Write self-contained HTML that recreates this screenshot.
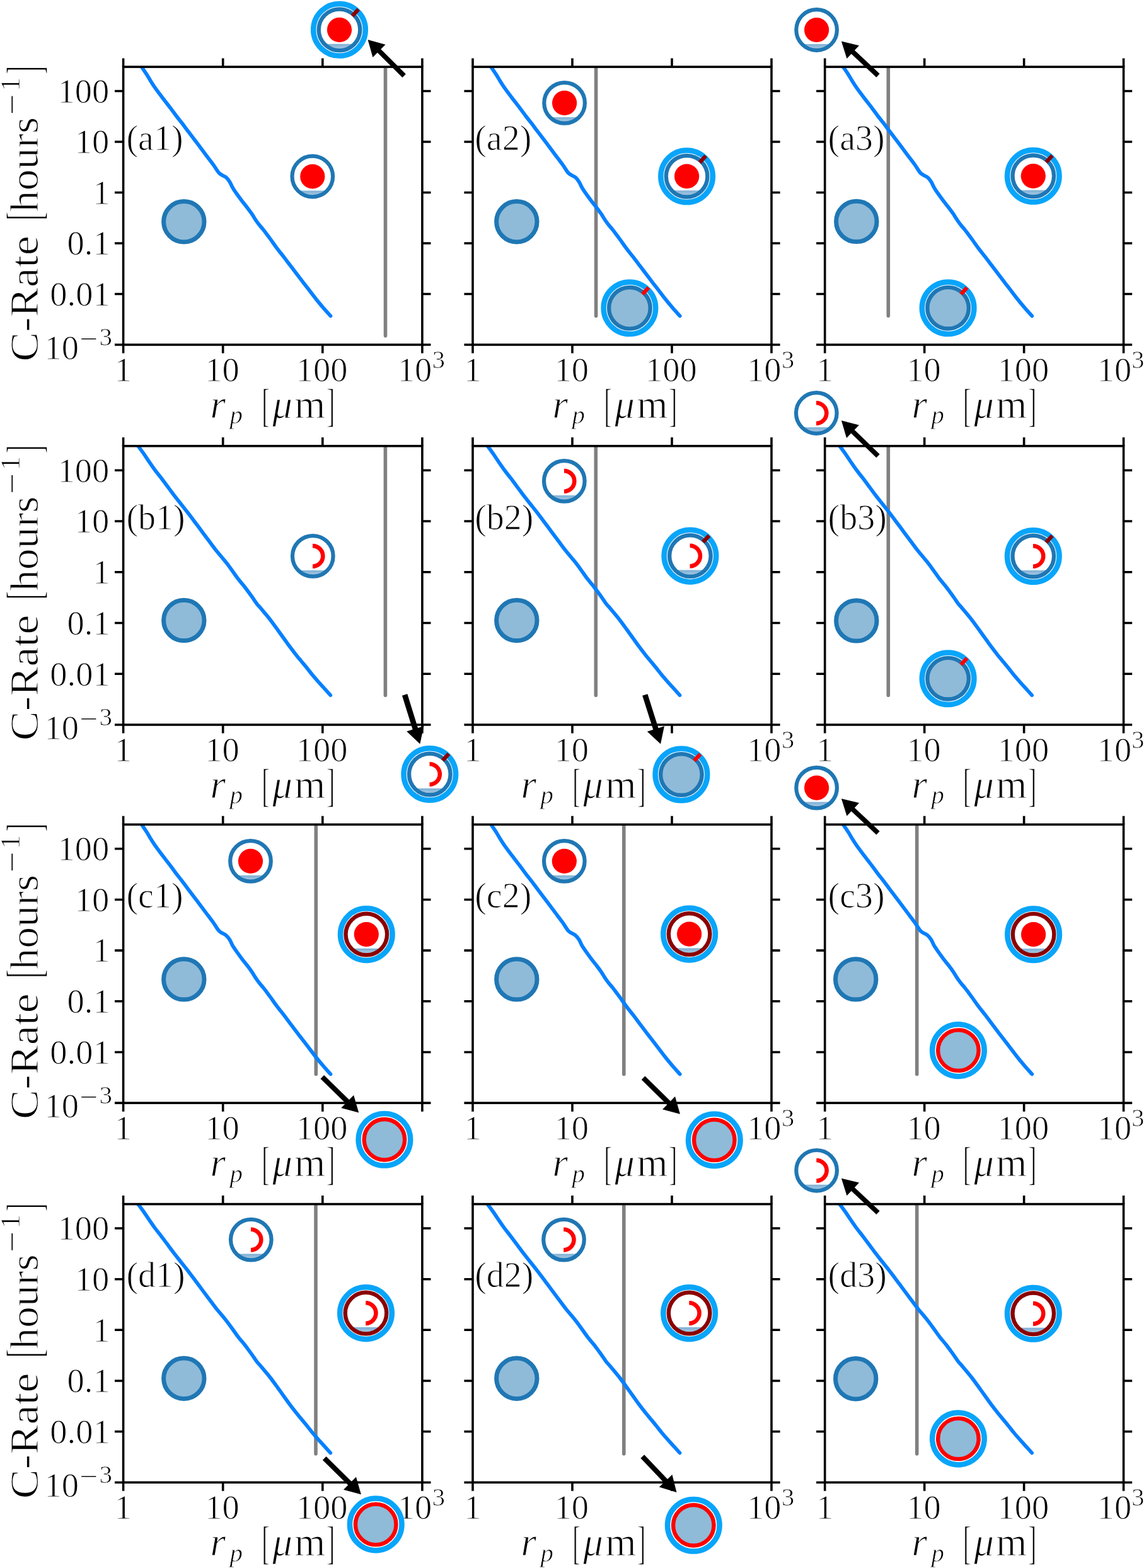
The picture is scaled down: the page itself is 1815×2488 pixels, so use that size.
<!DOCTYPE html>
<html lang="en"><head><meta charset="utf-8"><title>C-Rate versus particle radius</title>
<style>html,body{margin:0;padding:0;background:#fff}svg{display:block}text{font-family:'Liberation Serif', 'DejaVu Serif', serif;fill:#000;stroke:#fff;paint-order:fill stroke;stroke-linejoin:round}text,tspan{stroke-width:0.0185em}</style>
</head><body>
<svg xmlns="http://www.w3.org/2000/svg" width="1815" height="2488" viewBox="0 0 1815 2488">
<defs><linearGradient id="seg" x1="0" y1="0" x2="0" y2="1"><stop offset="0" stop-color="#7fb0d6"/><stop offset="1" stop-color="#b4d0e6"/></linearGradient></defs>
<rect width="1815" height="2488" fill="#fff"/>
<g id="a1">
<clipPath id="clip_a1"><rect x="195.6" y="106.1" width="474.3" height="440.9"/></clipPath>
<line x1="611.5" y1="106.1" x2="611.5" y2="532.7" stroke="#808080" stroke-width="5.6" stroke-linecap="round" clip-path="url(#clip_a1)"/>
<path d="M224.4 105.7 C225.79 107.76 230.42 114.44 232.76 118.07 C235.09 121.7 236.27 124.05 238.41 127.48 C240.54 130.91 242.36 134.07 245.57 138.66 C248.79 143.25 253.55 149.57 257.69 155.03 C261.84 160.49 266.65 166.47 270.44 171.44 C274.22 176.42 277.35 180.89 280.4 184.87 C283.44 188.85 285.56 191.25 288.69 195.34 C291.81 199.42 295.09 204.01 299.15 209.37 C303.21 214.73 308.53 221.53 313.04 227.49 C317.56 233.46 321.97 239.47 326.23 245.15 C330.49 250.83 334.99 256.64 338.6 261.6 C342.21 266.56 344.63 271.65 347.9 274.9 C351.17 278.15 355.47 278.87 358.2 281.1 C360.93 283.33 362.61 285.74 364.3 288.3 C365.99 290.86 367.25 294.37 368.36 296.46 C369.47 298.56 369.64 298.85 370.97 300.85 C372.29 302.86 374.09 305.44 376.29 308.51 C378.5 311.57 381.44 315.64 384.19 319.26 C386.94 322.87 390.25 326.85 392.81 330.21 C395.37 333.57 397.81 336.88 399.58 339.43 C401.34 341.98 402.07 343.46 403.38 345.51 C404.69 347.55 405.95 349.62 407.42 351.69 C408.89 353.77 410.56 355.93 412.18 357.94 C413.81 359.96 415.44 361.61 417.2 363.78 C418.96 365.95 420.65 368.2 422.74 370.97 C424.82 373.74 427.01 376.7 429.7 380.4 C432.39 384.09 435.44 388.58 438.87 393.14 C442.3 397.71 446.99 403.5 450.3 407.79 C453.6 412.07 456.42 415.87 458.71 418.88 C460.99 421.88 461.25 422.2 464 425.82 C466.76 429.44 471.14 435.27 475.23 440.61 C479.32 445.95 484.27 452.3 488.55 457.84 C492.82 463.38 496.86 468.82 500.89 473.87 C504.91 478.93 508.75 483.55 512.68 488.14 C516.62 492.73 522.53 499.19 524.5 501.4" fill="none" stroke="#0580ff" stroke-width="5.8" stroke-linecap="round" stroke-linejoin="round" clip-path="url(#clip_a1)"/>
<rect x="195.6" y="106.1" width="474.3" height="440.9" fill="none" stroke="#000" stroke-width="3.6"/>
<path d="M195.6 106.1 v-13.6 M195.6 547 v13.6 M353.7 106.1 v-13.6 M353.7 547 v13.6 M511.8 106.1 v-13.6 M511.8 547 v13.6 M669.9 106.1 v-13.6 M669.9 547 v13.6 M195.6 144.51 h-13.6 M669.9 144.51 h13.6 M195.6 225.01 h-13.6 M669.9 225.01 h13.6 M195.6 305.5 h-13.6 M669.9 305.5 h13.6 M195.6 386 h-13.6 M669.9 386 h13.6 M195.6 466.5 h-13.6 M669.9 466.5 h13.6 M195.6 547 h-13.6 M669.9 547 h13.6" stroke="#000" stroke-width="3.6" fill="none" stroke-linecap="butt"/>
<text x="181.82" y="604.9" font-size="54.5">1</text>
<text x="325.27" y="604.9" font-size="54.5">10</text>
<text x="469.75" y="604.9" font-size="54.5">100</text>
<text><tspan x="630.77" y="604.9" font-size="54.5">10</tspan><tspan x="685.82" y="583.6" font-size="40.5">3</tspan></text>
<text x="91.55" y="162.81" font-size="54.5">100</text>
<text x="118.8" y="243.31" font-size="54.5">10</text>
<text x="147.3" y="323.8" font-size="54.5">1</text>
<text x="106.55" y="404.3" font-size="54.5">0.1</text>
<text x="79.3" y="484.8" font-size="54.5">0.01</text>
<text><tspan x="70.57" y="569.8" font-size="54.5">10</tspan><tspan x="125.97" y="555" font-size="52">−</tspan><tspan x="157.82" y="548" font-size="40.5">3</tspan></text>
<g transform="translate(59.5 571) rotate(-90)"><text transform="translate(-2.7 0) scale(1.1200 1)" font-size="63">C-Rate</text><text transform="translate(220.68 5.24) scale(0.700 1.231)" font-size="63">[</text><text transform="translate(234.46 0) scale(1.0783 1)" font-size="63">hours</text><text><tspan x="388.35" y="-20.7" font-size="60">−</tspan><tspan x="426.07" y="-28.6" font-size="45">1</tspan></text><text transform="translate(453.09 5.24) scale(0.629 1.231)" font-size="63">]</text></g>
<text><tspan x="333.52" y="663" font-size="63" font-style="italic">r</tspan><tspan x="364.48" y="672.4" font-size="41" font-style="italic">p</tspan> </text><text transform="translate(415.13 668.28) scale(0.614 1.190)" font-size="63">[</text><text><tspan x="432.3" y="663" font-size="63" font-style="italic">μ</tspan><tspan x="467.32" y="663" font-size="63">m</tspan></text><text transform="translate(518.27 668.28) scale(0.614 1.190)" font-size="63">]</text>
<text x="200.45" y="237.9" font-size="56">(a1)</text>
<circle cx="291.8" cy="351.7" r="32.2" fill="#8fbbd9" stroke="#1f77b4" stroke-width="7.0"/>
<circle cx="495.8" cy="280" r="32.3" fill="#fff"/>
<path d="M518.97 302.5 A32.3 32.3 0 0 1 472.63 302.5 Z" fill="url(#seg)"/>
<circle cx="495.8" cy="280" r="32.3" fill="none" stroke="#1f77b4" stroke-width="6.2"/>
<circle cx="495.8" cy="280" r="19.6" fill="#ff0000"/>
<circle cx="538.5" cy="47.3" r="41.3" fill="#fff" stroke="#08a5fa" stroke-width="8.5"/>
<circle cx="538.5" cy="47.3" r="32.8" fill="#fff"/>
<path d="M562.37 69.8 A32.8 32.8 0 0 1 514.63 69.8 Z" fill="url(#seg)"/>
<circle cx="538.5" cy="47.3" r="32.8" fill="none" stroke="#1f77b4" stroke-width="6.4"/>
<circle cx="538.5" cy="47.3" r="19.6" fill="#ff0000"/>
<line x1="558.96" y1="25.36" x2="568.64" y2="14.97" stroke="#8b0000" stroke-width="6.2"/>
<polygon points="643.82,117.47 604.18,78.04 611.52,70.67 583.6,63 591.42,90.88 598.75,83.5 638.38,122.93" fill="#000"/>
</g>
<g id="a2">
<clipPath id="clip_a2"><rect x="750" y="106.1" width="474" height="440.9"/></clipPath>
<line x1="945.6" y1="106.1" x2="945.6" y2="501.3" stroke="#808080" stroke-width="5.6" stroke-linecap="round" clip-path="url(#clip_a2)"/>
<path d="M778.78 105.7 C780.17 107.76 784.8 114.44 787.14 118.07 C789.47 121.7 790.65 124.05 792.78 127.48 C794.91 130.91 796.73 134.07 799.94 138.66 C803.15 143.25 807.91 149.57 812.06 155.03 C816.2 160.49 821.01 166.47 824.79 171.44 C828.57 176.42 831.7 180.89 834.74 184.87 C837.78 188.85 839.9 191.25 843.03 195.34 C846.15 199.42 849.43 204.01 853.49 209.37 C857.54 214.73 862.86 221.53 867.37 227.49 C871.88 233.46 876.29 239.47 880.55 245.15 C884.81 250.83 889.3 256.64 892.91 261.6 C896.52 266.56 898.94 271.65 902.2 274.9 C905.47 278.15 909.77 278.87 912.5 281.1 C915.23 283.33 916.9 285.74 918.59 288.3 C920.29 290.86 921.54 294.37 922.65 296.46 C923.76 298.56 923.93 298.85 925.26 300.85 C926.58 302.86 928.38 305.44 930.58 308.51 C932.78 311.57 935.72 315.64 938.47 319.26 C941.22 322.87 944.52 326.85 947.09 330.21 C949.65 333.57 952.09 336.88 953.85 339.43 C955.61 341.98 956.34 343.46 957.65 345.51 C958.95 347.55 960.22 349.62 961.68 351.69 C963.15 353.77 964.82 355.93 966.45 357.94 C968.08 359.96 969.7 361.61 971.46 363.78 C973.21 365.95 974.91 368.2 976.99 370.97 C979.08 373.74 981.27 376.7 983.95 380.4 C986.64 384.09 989.69 388.58 993.12 393.14 C996.55 397.71 1001.23 403.5 1004.54 407.79 C1007.84 412.07 1010.66 415.87 1012.94 418.88 C1015.22 421.88 1015.48 422.2 1018.24 425.82 C1020.99 429.44 1025.37 435.27 1029.46 440.61 C1033.55 445.95 1038.49 452.3 1042.76 457.84 C1047.03 463.38 1051.07 468.82 1055.09 473.87 C1059.11 478.93 1062.95 483.55 1066.88 488.14 C1070.81 492.73 1076.72 499.19 1078.69 501.4" fill="none" stroke="#0580ff" stroke-width="5.8" stroke-linecap="round" stroke-linejoin="round" clip-path="url(#clip_a2)"/>
<rect x="750" y="106.1" width="474" height="440.9" fill="none" stroke="#000" stroke-width="3.6"/>
<path d="M750 106.1 v-13.6 M750 547 v13.6 M908 106.1 v-13.6 M908 547 v13.6 M1066 106.1 v-13.6 M1066 547 v13.6 M1224 106.1 v-13.6 M1224 547 v13.6 M750 144.51 h-13.6 M1224 144.51 h13.6 M750 225.01 h-13.6 M1224 225.01 h13.6 M750 305.5 h-13.6 M1224 305.5 h13.6 M750 386 h-13.6 M1224 386 h13.6 M750 466.5 h-13.6 M1224 466.5 h13.6 M750 547 h-13.6 M1224 547 h13.6" stroke="#000" stroke-width="3.6" fill="none" stroke-linecap="butt"/>
<text x="736.23" y="604.9" font-size="54.5">1</text>
<text x="879.58" y="604.9" font-size="54.5">10</text>
<text x="1023.95" y="604.9" font-size="54.5">100</text>
<text><tspan x="1184.88" y="604.9" font-size="54.5">10</tspan><tspan x="1239.92" y="583.6" font-size="40.5">3</tspan></text>
<text><tspan x="876.57" y="663" font-size="63" font-style="italic">r</tspan><tspan x="907.52" y="672.4" font-size="41" font-style="italic">p</tspan> </text><text transform="translate(958.18 668.28) scale(0.614 1.190)" font-size="63">[</text><text><tspan x="975.35" y="663" font-size="63" font-style="italic">μ</tspan><tspan x="1010.38" y="663" font-size="63">m</tspan></text><text transform="translate(1061.32 668.28) scale(0.614 1.190)" font-size="63">]</text>
<text x="753.15" y="237.9" font-size="56">(a2)</text>
<circle cx="819.8" cy="351.7" r="32.2" fill="#8fbbd9" stroke="#1f77b4" stroke-width="7.0"/>
<circle cx="895.6" cy="163.4" r="32.3" fill="#fff"/>
<path d="M918.77 185.9 A32.3 32.3 0 0 1 872.43 185.9 Z" fill="url(#seg)"/>
<circle cx="895.6" cy="163.4" r="32.3" fill="none" stroke="#1f77b4" stroke-width="6.2"/>
<circle cx="895.6" cy="163.4" r="19.6" fill="#ff0000"/>
<circle cx="1089.6" cy="279.75" r="41.3" fill="#fff" stroke="#08a5fa" stroke-width="8.5"/>
<circle cx="1089.6" cy="279.75" r="32.8" fill="#fff"/>
<path d="M1113.47 302.25 A32.8 32.8 0 0 1 1065.73 302.25 Z" fill="url(#seg)"/>
<circle cx="1089.6" cy="279.75" r="32.8" fill="none" stroke="#1f77b4" stroke-width="6.4"/>
<circle cx="1089.6" cy="279.75" r="19.6" fill="#ff0000"/>
<line x1="1110.06" y1="257.81" x2="1119.74" y2="247.42" stroke="#8b0000" stroke-width="6.2"/>
<circle cx="998.9" cy="488.8" r="41.3" fill="#fff" stroke="#08a5fa" stroke-width="8.5"/>
<circle cx="998.9" cy="488.8" r="32.8" fill="#8fbbd9" stroke="#1f77b4" stroke-width="6.4"/>
<line x1="1019.36" y1="466.86" x2="1029.04" y2="456.47" stroke="#ff0000" stroke-width="6.2"/>
</g>
<g id="a3">
<clipPath id="clip_a3"><rect x="1308.7" y="106.1" width="473.9" height="440.9"/></clipPath>
<line x1="1409.3" y1="106.1" x2="1409.3" y2="501.1" stroke="#808080" stroke-width="5.6" stroke-linecap="round" clip-path="url(#clip_a3)"/>
<path d="M1337.48 105.7 C1338.87 107.76 1343.49 114.44 1345.83 118.07 C1348.16 121.7 1349.34 124.05 1351.47 127.48 C1353.6 130.91 1355.42 134.07 1358.63 138.66 C1361.84 143.25 1366.6 149.57 1370.74 155.03 C1374.88 160.49 1379.69 166.47 1383.47 171.44 C1387.25 176.42 1390.39 180.89 1393.42 184.87 C1396.46 188.85 1398.58 191.25 1401.71 195.34 C1404.83 199.42 1408.11 204.01 1412.17 209.37 C1416.22 214.73 1421.53 221.53 1426.04 227.49 C1430.55 233.46 1434.97 239.47 1439.22 245.15 C1443.48 250.83 1447.97 256.64 1451.58 261.6 C1455.19 266.56 1457.61 271.65 1460.87 274.9 C1464.14 278.15 1468.43 278.87 1471.16 281.1 C1473.89 283.33 1475.57 285.74 1477.26 288.3 C1478.95 290.86 1480.2 294.37 1481.31 296.46 C1482.42 298.56 1482.6 298.85 1483.92 300.85 C1485.24 302.86 1487.04 305.44 1489.24 308.51 C1491.44 311.57 1494.38 315.64 1497.13 319.26 C1499.88 322.87 1503.18 326.85 1505.74 330.21 C1508.31 333.57 1510.74 336.88 1512.5 339.43 C1514.26 341.98 1515 343.46 1516.3 345.51 C1517.61 347.55 1518.87 349.62 1520.34 351.69 C1521.81 353.77 1523.47 355.93 1525.1 357.94 C1526.73 359.96 1528.35 361.61 1530.11 363.78 C1531.87 365.95 1533.56 368.2 1535.65 370.97 C1537.73 373.74 1539.92 376.7 1542.6 380.4 C1545.29 384.09 1548.34 388.58 1551.76 393.14 C1555.19 397.71 1559.88 403.5 1563.18 407.79 C1566.49 412.07 1569.3 415.87 1571.59 418.88 C1573.87 421.88 1574.13 422.2 1576.88 425.82 C1579.63 429.44 1584.01 435.27 1588.1 440.61 C1592.19 445.95 1597.13 452.3 1601.4 457.84 C1605.67 463.38 1609.71 468.82 1613.73 473.87 C1617.75 478.93 1621.58 483.55 1625.51 488.14 C1629.45 492.73 1635.35 499.19 1637.32 501.4" fill="none" stroke="#0580ff" stroke-width="5.8" stroke-linecap="round" stroke-linejoin="round" clip-path="url(#clip_a3)"/>
<rect x="1308.7" y="106.1" width="473.9" height="440.9" fill="none" stroke="#000" stroke-width="3.6"/>
<path d="M1308.7 106.1 v-13.6 M1308.7 547 v13.6 M1466.67 106.1 v-13.6 M1466.67 547 v13.6 M1624.63 106.1 v-13.6 M1624.63 547 v13.6 M1782.6 106.1 v-13.6 M1782.6 547 v13.6 M1308.7 144.51 h-13.6 M1782.6 144.51 h13.6 M1308.7 225.01 h-13.6 M1782.6 225.01 h13.6 M1308.7 305.5 h-13.6 M1782.6 305.5 h13.6 M1308.7 386 h-13.6 M1782.6 386 h13.6 M1308.7 466.5 h-13.6 M1782.6 466.5 h13.6 M1308.7 547 h-13.6 M1782.6 547 h13.6" stroke="#000" stroke-width="3.6" fill="none" stroke-linecap="butt"/>
<text x="1294.92" y="604.9" font-size="54.5">1</text>
<text x="1438.24" y="604.9" font-size="54.5">10</text>
<text x="1582.58" y="604.9" font-size="54.5">100</text>
<text><tspan x="1740.67" y="604.9" font-size="54.5">10</tspan><tspan x="1795.32" y="583.6" font-size="40.5">3</tspan></text>
<text><tspan x="1446.43" y="663" font-size="63" font-style="italic">r</tspan><tspan x="1477.38" y="672.4" font-size="41" font-style="italic">p</tspan> </text><text transform="translate(1528.03 668.28) scale(0.614 1.190)" font-size="63">[</text><text><tspan x="1545.2" y="663" font-size="63" font-style="italic">μ</tspan><tspan x="1580.23" y="663" font-size="63">m</tspan></text><text transform="translate(1631.17 668.28) scale(0.614 1.190)" font-size="63">]</text>
<text x="1313.55" y="237.9" font-size="56">(a3)</text>
<circle cx="1358.8" cy="351.4" r="32.2" fill="#8fbbd9" stroke="#1f77b4" stroke-width="7.0"/>
<circle cx="1639.3" cy="279.3" r="41.3" fill="#fff" stroke="#08a5fa" stroke-width="8.5"/>
<circle cx="1639.3" cy="279.3" r="32.8" fill="#fff"/>
<path d="M1663.17 301.8 A32.8 32.8 0 0 1 1615.43 301.8 Z" fill="url(#seg)"/>
<circle cx="1639.3" cy="279.3" r="32.8" fill="none" stroke="#1f77b4" stroke-width="6.4"/>
<circle cx="1639.3" cy="279.3" r="19.6" fill="#ff0000"/>
<line x1="1659.76" y1="257.36" x2="1669.44" y2="246.97" stroke="#8b0000" stroke-width="6.2"/>
<circle cx="1504.1" cy="488.7" r="41.3" fill="#fff" stroke="#08a5fa" stroke-width="8.5"/>
<circle cx="1504.1" cy="488.7" r="32.8" fill="#8fbbd9" stroke="#1f77b4" stroke-width="6.4"/>
<line x1="1524.56" y1="466.76" x2="1534.24" y2="456.37" stroke="#ff0000" stroke-width="6.2"/>
<circle cx="1295.6" cy="47.5" r="32.3" fill="#fff"/>
<path d="M1318.77 70 A32.3 32.3 0 0 1 1272.43 70 Z" fill="url(#seg)"/>
<circle cx="1295.6" cy="47.5" r="32.3" fill="none" stroke="#1f77b4" stroke-width="6.2"/>
<circle cx="1295.6" cy="47.5" r="19.6" fill="#ff0000"/>
<polygon points="1395.63,117.09 1355.91,79.83 1363.03,72.25 1334.9,65.4 1343.53,93.03 1350.65,85.45 1390.37,122.71" fill="#000"/>
</g>
<g id="b1">
<clipPath id="clip_b1"><rect x="195.6" y="707.7" width="474.3" height="442.3"/></clipPath>
<line x1="611.4" y1="707.7" x2="611.4" y2="1103.2" stroke="#808080" stroke-width="5.6" stroke-linecap="round" clip-path="url(#clip_b1)"/>
<path d="M218.8 707.3 C220.36 709.44 225.24 715.93 228.18 720.11 C231.11 724.29 233.57 728.21 236.41 732.36 C239.25 736.51 241.95 740.61 245.22 745.02 C248.49 749.44 252.31 753.98 256.01 758.83 C259.71 763.68 264.07 769.58 267.44 774.11 C270.81 778.65 273.13 781.95 276.25 786.04 C279.38 790.12 282.57 794.05 286.19 798.62 C289.81 803.2 294.01 808.36 297.99 813.49 C301.96 818.63 305.98 824.03 310.03 829.43 C314.08 834.84 318.42 840.74 322.28 845.94 C326.15 851.13 329.78 855.99 333.24 860.6 C336.69 865.2 339.83 869.53 343.02 873.56 C346.21 877.59 349.64 881.46 352.38 884.75 C355.11 888.05 356.85 890.02 359.41 893.33 C361.97 896.64 364.66 900.35 367.75 904.6 C370.85 908.85 374.57 914.39 377.98 918.85 C381.4 923.3 385.33 927.64 388.25 931.34 C391.17 935.05 393.45 938.3 395.5 941.08 C397.56 943.87 398.58 945.24 400.57 948.05 C402.55 950.85 405.14 954.97 407.4 957.9 C409.65 960.82 411.77 962.83 414.11 965.58 C416.45 968.33 418.82 971.22 421.42 974.4 C424.03 977.58 426.52 980.44 429.75 984.66 C432.98 988.89 437.07 994.61 440.8 999.75 C444.53 1004.9 449 1011.2 452.12 1015.54 C455.24 1019.88 456.48 1021.74 459.53 1025.8 C462.58 1029.87 467.46 1036.2 470.42 1039.94 C473.38 1043.68 474.53 1044.93 477.28 1048.26 C480.02 1051.59 483.82 1056.1 486.91 1059.91 C490.01 1063.73 492.93 1067.63 495.85 1071.16 C498.77 1074.68 501.06 1077.27 504.44 1081.08 C507.82 1084.9 512.83 1090.38 516.14 1094.04 C519.45 1097.71 522.94 1101.59 524.3 1103.1" fill="none" stroke="#0580ff" stroke-width="5.8" stroke-linecap="round" stroke-linejoin="round" clip-path="url(#clip_b1)"/>
<rect x="195.6" y="707.7" width="474.3" height="442.3" fill="none" stroke="#000" stroke-width="3.6"/>
<path d="M195.6 707.7 v-13.6 M195.6 1150 v13.6 M353.7 707.7 v-13.6 M353.7 1150 v13.6 M511.8 707.7 v-13.6 M511.8 1150 v13.6 M669.9 707.7 v-13.6 M669.9 1150 v13.6 M195.6 746.23 h-13.6 M669.9 746.23 h13.6 M195.6 826.98 h-13.6 M669.9 826.98 h13.6 M195.6 907.74 h-13.6 M669.9 907.74 h13.6 M195.6 988.49 h-13.6 M669.9 988.49 h13.6 M195.6 1069.25 h-13.6 M669.9 1069.25 h13.6 M195.6 1150 h-13.6 M669.9 1150 h13.6" stroke="#000" stroke-width="3.6" fill="none" stroke-linecap="butt"/>
<text x="181.82" y="1207.9" font-size="54.5">1</text>
<text x="325.27" y="1207.9" font-size="54.5">10</text>
<text x="469.75" y="1207.9" font-size="54.5">100</text>
<text x="91.55" y="764.53" font-size="54.5">100</text>
<text x="118.8" y="845.28" font-size="54.5">10</text>
<text x="147.3" y="926.04" font-size="54.5">1</text>
<text x="106.55" y="1006.79" font-size="54.5">0.1</text>
<text x="79.3" y="1087.55" font-size="54.5">0.01</text>
<text><tspan x="70.57" y="1172.8" font-size="54.5">10</tspan><tspan x="125.97" y="1158" font-size="52">−</tspan><tspan x="157.82" y="1151" font-size="40.5">3</tspan></text>
<g transform="translate(59.5 1172.6) rotate(-90)"><text transform="translate(-2.7 0) scale(1.1200 1)" font-size="63">C-Rate</text><text transform="translate(220.68 5.24) scale(0.700 1.231)" font-size="63">[</text><text transform="translate(234.46 0) scale(1.0783 1)" font-size="63">hours</text><text><tspan x="388.35" y="-20.7" font-size="60">−</tspan><tspan x="426.07" y="-28.6" font-size="45">1</tspan></text><text transform="translate(453.09 5.24) scale(0.629 1.231)" font-size="63">]</text></g>
<text><tspan x="333.52" y="1266" font-size="63" font-style="italic">r</tspan><tspan x="364.48" y="1275.4" font-size="41" font-style="italic">p</tspan> </text><text transform="translate(415.13 1271.28) scale(0.614 1.190)" font-size="63">[</text><text><tspan x="432.3" y="1266" font-size="63" font-style="italic">μ</tspan><tspan x="467.32" y="1266" font-size="63">m</tspan></text><text transform="translate(518.27 1271.28) scale(0.614 1.190)" font-size="63">]</text>
<text x="200.45" y="839.5" font-size="56">(b1)</text>
<circle cx="291.8" cy="984.4" r="32.2" fill="#8fbbd9" stroke="#1f77b4" stroke-width="7.0"/>
<circle cx="496.3" cy="882.4" r="32.3" fill="#fff"/>
<path d="M519.47 904.9 A32.3 32.3 0 0 1 473.13 904.9 Z" fill="url(#seg)"/>
<circle cx="496.3" cy="882.4" r="32.3" fill="none" stroke="#1f77b4" stroke-width="6.2"/>
<path d="M496 866.1 A16.3 16.3 0 0 1 496 898.7" fill="none" stroke="#ff0000" stroke-width="6.6"/>
<circle cx="681.8" cy="1228.5" r="41.3" fill="#fff" stroke="#08a5fa" stroke-width="8.5"/>
<circle cx="681.8" cy="1228.5" r="32.8" fill="#fff"/>
<path d="M705.67 1251 A32.8 32.8 0 0 1 657.93 1251 Z" fill="url(#seg)"/>
<circle cx="681.8" cy="1228.5" r="32.8" fill="none" stroke="#1f77b4" stroke-width="6.4"/>
<path d="M681.5 1212.2 A16.3 16.3 0 0 1 681.5 1244.8" fill="none" stroke="#ff0000" stroke-width="6.6"/>
<line x1="702.26" y1="1206.56" x2="711.94" y2="1196.17" stroke="#8b0000" stroke-width="6.2"/>
<polygon points="637.95,1103.69 654.68,1157.62 645.22,1160.55 666.3,1180.4 672.44,1152.11 662.99,1155.04 646.25,1101.11" fill="#000"/>
</g>
<g id="b2">
<clipPath id="clip_b2"><rect x="750" y="707.7" width="474" height="442.3"/></clipPath>
<line x1="945.3" y1="707.7" x2="945.3" y2="1103.2" stroke="#808080" stroke-width="5.6" stroke-linecap="round" clip-path="url(#clip_b2)"/>
<path d="M773.19 707.3 C774.75 709.44 779.62 715.93 782.56 720.11 C785.49 724.29 787.94 728.21 790.78 732.36 C793.62 736.51 796.32 740.61 799.59 745.02 C802.85 749.44 806.67 753.98 810.37 758.83 C814.07 763.68 818.42 769.58 821.79 774.11 C825.16 778.65 827.48 781.95 830.6 786.04 C833.72 790.12 836.91 794.05 840.53 798.62 C844.15 803.2 848.35 808.36 852.32 813.49 C856.29 818.63 860.31 824.03 864.36 829.43 C868.41 834.84 872.74 840.74 876.6 845.94 C880.47 851.13 884.09 855.99 887.55 860.6 C891 865.2 894.14 869.53 897.33 873.56 C900.52 877.59 903.95 881.46 906.68 884.75 C909.41 888.05 911.15 890.02 913.71 893.33 C916.27 896.64 918.95 900.35 922.04 904.6 C925.14 908.85 928.85 914.39 932.27 918.85 C935.68 923.3 939.61 927.64 942.53 931.34 C945.45 935.05 947.73 938.3 949.78 941.08 C951.83 943.87 952.86 945.24 954.84 948.05 C956.82 950.85 959.41 954.97 961.66 957.9 C963.92 960.82 966.03 962.83 968.37 965.58 C970.71 968.33 973.08 971.22 975.68 974.4 C978.29 977.58 980.78 980.44 984 984.66 C987.23 988.89 991.32 994.61 995.04 999.75 C998.77 1004.9 1003.24 1011.2 1006.36 1015.54 C1009.48 1019.88 1010.71 1021.74 1013.76 1025.8 C1016.81 1029.87 1021.69 1036.2 1024.65 1039.94 C1027.6 1043.68 1028.75 1044.93 1031.5 1048.26 C1034.25 1051.59 1038.03 1056.1 1041.13 1059.91 C1044.22 1063.73 1047.14 1067.63 1050.06 1071.16 C1052.98 1074.68 1055.26 1077.27 1058.64 1081.08 C1062.02 1084.9 1067.03 1090.38 1070.34 1094.04 C1073.65 1097.71 1077.13 1101.59 1078.49 1103.1" fill="none" stroke="#0580ff" stroke-width="5.8" stroke-linecap="round" stroke-linejoin="round" clip-path="url(#clip_b2)"/>
<rect x="750" y="707.7" width="474" height="442.3" fill="none" stroke="#000" stroke-width="3.6"/>
<path d="M750 707.7 v-13.6 M750 1150 v13.6 M908 707.7 v-13.6 M908 1150 v13.6 M1066 707.7 v-13.6 M1066 1150 v13.6 M1224 707.7 v-13.6 M1224 1150 v13.6 M750 746.23 h-13.6 M1224 746.23 h13.6 M750 826.98 h-13.6 M1224 826.98 h13.6 M750 907.74 h-13.6 M1224 907.74 h13.6 M750 988.49 h-13.6 M1224 988.49 h13.6 M750 1069.25 h-13.6 M1224 1069.25 h13.6 M750 1150 h-13.6 M1224 1150 h13.6" stroke="#000" stroke-width="3.6" fill="none" stroke-linecap="butt"/>
<text x="736.23" y="1207.9" font-size="54.5">1</text>
<text x="879.58" y="1207.9" font-size="54.5">10</text>
<text><tspan x="1184.88" y="1207.9" font-size="54.5">10</tspan><tspan x="1239.92" y="1186.6" font-size="40.5">3</tspan></text>
<text><tspan x="826.57" y="1266" font-size="63" font-style="italic">r</tspan><tspan x="857.52" y="1275.4" font-size="41" font-style="italic">p</tspan> </text><text transform="translate(908.18 1271.28) scale(0.614 1.190)" font-size="63">[</text><text><tspan x="925.35" y="1266" font-size="63" font-style="italic">μ</tspan><tspan x="960.38" y="1266" font-size="63">m</tspan></text><text transform="translate(1011.32 1271.28) scale(0.614 1.190)" font-size="63">]</text>
<text x="753.15" y="839.5" font-size="56">(b2)</text>
<circle cx="819.8" cy="984.4" r="32.2" fill="#8fbbd9" stroke="#1f77b4" stroke-width="7.0"/>
<circle cx="895.3" cy="763.4" r="32.3" fill="#fff"/>
<path d="M918.47 785.9 A32.3 32.3 0 0 1 872.13 785.9 Z" fill="url(#seg)"/>
<circle cx="895.3" cy="763.4" r="32.3" fill="none" stroke="#1f77b4" stroke-width="6.2"/>
<path d="M895 747.1 A16.3 16.3 0 0 1 895 779.7" fill="none" stroke="#ff0000" stroke-width="6.6"/>
<circle cx="1094.9" cy="882.1" r="41.3" fill="#fff" stroke="#08a5fa" stroke-width="8.5"/>
<circle cx="1094.9" cy="882.1" r="32.8" fill="#fff"/>
<path d="M1118.77 904.6 A32.8 32.8 0 0 1 1071.03 904.6 Z" fill="url(#seg)"/>
<circle cx="1094.9" cy="882.1" r="32.8" fill="none" stroke="#1f77b4" stroke-width="6.4"/>
<path d="M1094.6 865.8 A16.3 16.3 0 0 1 1094.6 898.4" fill="none" stroke="#ff0000" stroke-width="6.6"/>
<line x1="1115.36" y1="860.16" x2="1125.04" y2="849.77" stroke="#8b0000" stroke-width="6.2"/>
<circle cx="1080.9" cy="1229" r="41.3" fill="#fff" stroke="#08a5fa" stroke-width="8.5"/>
<circle cx="1080.9" cy="1229" r="32.8" fill="#8fbbd9" stroke="#1f77b4" stroke-width="6.4"/>
<line x1="1101.36" y1="1207.06" x2="1111.04" y2="1196.67" stroke="#ff0000" stroke-width="6.2"/>
<polygon points="1019.15,1103.81 1036.25,1157.79 1026.81,1160.78 1048,1180.5 1053.98,1152.17 1044.54,1155.16 1027.45,1101.19" fill="#000"/>
</g>
<g id="b3">
<clipPath id="clip_b3"><rect x="1308.7" y="707.7" width="473.9" height="442.3"/></clipPath>
<line x1="1409.3" y1="707.7" x2="1409.3" y2="1103.2" stroke="#808080" stroke-width="5.6" stroke-linecap="round" clip-path="url(#clip_b3)"/>
<path d="M1331.88 707.3 C1333.44 709.44 1338.32 715.93 1341.25 720.11 C1344.18 724.29 1346.63 728.21 1349.47 732.36 C1352.31 736.51 1355.01 740.61 1358.28 745.02 C1361.54 749.44 1365.36 753.98 1369.06 758.83 C1372.76 763.68 1377.11 769.58 1380.48 774.11 C1383.85 778.65 1386.16 781.95 1389.28 786.04 C1392.41 790.12 1395.59 794.05 1399.21 798.62 C1402.83 803.2 1407.03 808.36 1411 813.49 C1414.97 818.63 1418.99 824.03 1423.03 829.43 C1427.08 834.84 1431.41 840.74 1435.28 845.94 C1439.14 851.13 1442.77 855.99 1446.22 860.6 C1449.67 865.2 1452.81 869.53 1456 873.56 C1459.18 877.59 1462.61 881.46 1465.34 884.75 C1468.07 888.05 1469.81 890.02 1472.37 893.33 C1474.93 896.64 1477.61 900.35 1480.71 904.6 C1483.8 908.85 1487.52 914.39 1490.93 918.85 C1494.34 923.3 1498.27 927.64 1501.19 931.34 C1504.11 935.05 1506.38 938.3 1508.43 941.08 C1510.49 943.87 1511.51 945.24 1513.49 948.05 C1515.47 950.85 1518.06 954.97 1520.32 957.9 C1522.57 960.82 1524.69 962.83 1527.02 965.58 C1529.36 968.33 1531.73 971.22 1534.33 974.4 C1536.94 977.58 1539.43 980.44 1542.65 984.66 C1545.88 988.89 1549.96 994.61 1553.69 999.75 C1557.42 1004.9 1561.89 1011.2 1565 1015.54 C1568.12 1019.88 1569.36 1021.74 1572.41 1025.8 C1575.45 1029.87 1580.33 1036.2 1583.29 1039.94 C1586.25 1043.68 1587.39 1044.93 1590.14 1048.26 C1592.89 1051.59 1596.67 1056.1 1599.77 1059.91 C1602.86 1063.73 1605.78 1067.63 1608.7 1071.16 C1611.62 1074.68 1613.9 1077.27 1617.28 1081.08 C1620.66 1084.9 1625.67 1090.38 1628.97 1094.04 C1632.28 1097.71 1635.76 1101.59 1637.12 1103.1" fill="none" stroke="#0580ff" stroke-width="5.8" stroke-linecap="round" stroke-linejoin="round" clip-path="url(#clip_b3)"/>
<rect x="1308.7" y="707.7" width="473.9" height="442.3" fill="none" stroke="#000" stroke-width="3.6"/>
<path d="M1308.7 707.7 v-13.6 M1308.7 1150 v13.6 M1466.67 707.7 v-13.6 M1466.67 1150 v13.6 M1624.63 707.7 v-13.6 M1624.63 1150 v13.6 M1782.6 707.7 v-13.6 M1782.6 1150 v13.6 M1308.7 746.23 h-13.6 M1782.6 746.23 h13.6 M1308.7 826.98 h-13.6 M1782.6 826.98 h13.6 M1308.7 907.74 h-13.6 M1782.6 907.74 h13.6 M1308.7 988.49 h-13.6 M1782.6 988.49 h13.6 M1308.7 1069.25 h-13.6 M1782.6 1069.25 h13.6 M1308.7 1150 h-13.6 M1782.6 1150 h13.6" stroke="#000" stroke-width="3.6" fill="none" stroke-linecap="butt"/>
<text x="1294.92" y="1207.9" font-size="54.5">1</text>
<text x="1438.24" y="1207.9" font-size="54.5">10</text>
<text x="1582.58" y="1207.9" font-size="54.5">100</text>
<text><tspan x="1740.67" y="1207.9" font-size="54.5">10</tspan><tspan x="1795.32" y="1186.6" font-size="40.5">3</tspan></text>
<text><tspan x="1446.43" y="1266" font-size="63" font-style="italic">r</tspan><tspan x="1477.38" y="1275.4" font-size="41" font-style="italic">p</tspan> </text><text transform="translate(1528.03 1271.28) scale(0.614 1.190)" font-size="63">[</text><text><tspan x="1545.2" y="1266" font-size="63" font-style="italic">μ</tspan><tspan x="1580.23" y="1266" font-size="63">m</tspan></text><text transform="translate(1631.17 1271.28) scale(0.614 1.190)" font-size="63">]</text>
<text x="1313.55" y="839.5" font-size="56">(b3)</text>
<circle cx="1358.8" cy="984.9" r="32.2" fill="#8fbbd9" stroke="#1f77b4" stroke-width="7.0"/>
<circle cx="1639.3" cy="882.5" r="41.3" fill="#fff" stroke="#08a5fa" stroke-width="8.5"/>
<circle cx="1639.3" cy="882.5" r="32.8" fill="#fff"/>
<path d="M1663.17 905 A32.8 32.8 0 0 1 1615.43 905 Z" fill="url(#seg)"/>
<circle cx="1639.3" cy="882.5" r="32.8" fill="none" stroke="#1f77b4" stroke-width="6.4"/>
<path d="M1639 866.2 A16.3 16.3 0 0 1 1639 898.8" fill="none" stroke="#ff0000" stroke-width="6.6"/>
<line x1="1659.76" y1="860.56" x2="1669.44" y2="850.17" stroke="#8b0000" stroke-width="6.2"/>
<circle cx="1504.1" cy="1076.7" r="41.3" fill="#fff" stroke="#08a5fa" stroke-width="8.5"/>
<circle cx="1504.1" cy="1076.7" r="32.8" fill="#8fbbd9" stroke="#1f77b4" stroke-width="6.4"/>
<line x1="1524.56" y1="1054.76" x2="1534.24" y2="1044.37" stroke="#ff0000" stroke-width="6.2"/>
<circle cx="1295.3" cy="655.5" r="32.3" fill="#fff"/>
<path d="M1318.47 678 A32.3 32.3 0 0 1 1272.13 678 Z" fill="url(#seg)"/>
<circle cx="1295.3" cy="655.5" r="32.3" fill="none" stroke="#1f77b4" stroke-width="6.2"/>
<path d="M1295 639.2 A16.3 16.3 0 0 1 1295 671.8" fill="none" stroke="#ff0000" stroke-width="6.6"/>
<polygon points="1395.68,720.74 1355.68,681.97 1362.91,674.5 1334.9,667.2 1343.08,694.97 1350.32,687.5 1390.32,726.26" fill="#000"/>
</g>
<g id="c1">
<clipPath id="clip_c1"><rect x="195.6" y="1308.3" width="474.3" height="441.8"/></clipPath>
<line x1="501.3" y1="1308.3" x2="501.3" y2="1704.5" stroke="#808080" stroke-width="5.6" stroke-linecap="round" clip-path="url(#clip_c1)"/>
<path d="M224.4 1307.9 C225.79 1309.97 230.42 1316.66 232.76 1320.3 C235.09 1323.93 236.27 1326.29 238.41 1329.73 C240.54 1333.16 242.36 1336.33 245.57 1340.93 C248.79 1345.53 253.55 1351.85 257.69 1357.33 C261.84 1362.8 266.65 1368.79 270.44 1373.78 C274.22 1378.76 277.35 1383.24 280.4 1387.23 C283.44 1391.22 285.56 1393.63 288.69 1397.72 C291.81 1401.81 295.09 1406.41 299.15 1411.78 C303.21 1417.15 308.53 1423.97 313.04 1429.94 C317.56 1435.92 321.97 1441.94 326.23 1447.63 C330.49 1453.33 334.99 1459.15 338.6 1464.12 C342.21 1469.09 344.63 1474.19 347.9 1477.44 C351.17 1480.7 355.47 1481.42 358.2 1483.66 C360.93 1485.9 362.61 1488.31 364.3 1490.87 C365.99 1493.44 367.25 1496.96 368.36 1499.05 C369.47 1501.15 369.64 1501.44 370.97 1503.45 C372.29 1505.46 374.09 1508.05 376.29 1511.12 C378.5 1514.19 381.44 1518.27 384.19 1521.89 C386.94 1525.52 390.25 1529.5 392.81 1532.87 C395.37 1536.24 397.81 1539.55 399.58 1542.1 C401.34 1544.66 402.07 1546.15 403.38 1548.2 C404.69 1550.25 405.95 1552.32 407.42 1554.4 C408.89 1556.47 410.56 1558.64 412.18 1560.66 C413.81 1562.67 415.44 1564.33 417.2 1566.5 C418.96 1568.68 420.65 1570.93 422.74 1573.71 C424.82 1576.48 427.01 1579.45 429.7 1583.16 C432.39 1586.86 435.44 1591.36 438.87 1595.93 C442.3 1600.5 446.99 1606.3 450.3 1610.6 C453.6 1614.9 456.42 1618.7 458.71 1621.72 C460.99 1624.73 461.25 1625.04 464 1628.67 C466.76 1632.3 471.14 1638.15 475.23 1643.49 C479.32 1648.84 484.27 1655.2 488.55 1660.76 C492.82 1666.31 496.86 1671.77 500.89 1676.83 C504.91 1681.89 508.75 1686.52 512.68 1691.12 C516.62 1695.72 522.53 1702.19 524.5 1704.41" fill="none" stroke="#0580ff" stroke-width="5.8" stroke-linecap="round" stroke-linejoin="round" clip-path="url(#clip_c1)"/>
<rect x="195.6" y="1308.3" width="474.3" height="441.8" fill="none" stroke="#000" stroke-width="3.6"/>
<path d="M195.6 1308.3 v-13.6 M195.6 1750.1 v13.6 M353.7 1308.3 v-13.6 M353.7 1750.1 v13.6 M511.8 1308.3 v-13.6 M511.8 1750.1 v13.6 M669.9 1308.3 v-13.6 M669.9 1750.1 v13.6 M195.6 1346.79 h-13.6 M669.9 1346.79 h13.6 M195.6 1427.45 h-13.6 M669.9 1427.45 h13.6 M195.6 1508.11 h-13.6 M669.9 1508.11 h13.6 M195.6 1588.77 h-13.6 M669.9 1588.77 h13.6 M195.6 1669.44 h-13.6 M669.9 1669.44 h13.6 M195.6 1750.1 h-13.6 M669.9 1750.1 h13.6" stroke="#000" stroke-width="3.6" fill="none" stroke-linecap="butt"/>
<text x="181.82" y="1808" font-size="54.5">1</text>
<text x="325.27" y="1808" font-size="54.5">10</text>
<text x="469.75" y="1808" font-size="54.5">100</text>
<text x="91.55" y="1365.09" font-size="54.5">100</text>
<text x="118.8" y="1445.75" font-size="54.5">10</text>
<text x="147.3" y="1526.41" font-size="54.5">1</text>
<text x="106.55" y="1607.07" font-size="54.5">0.1</text>
<text x="79.3" y="1687.74" font-size="54.5">0.01</text>
<text><tspan x="70.57" y="1772.9" font-size="54.5">10</tspan><tspan x="125.97" y="1758.1" font-size="52">−</tspan><tspan x="157.82" y="1751.1" font-size="40.5">3</tspan></text>
<g transform="translate(59.5 1773.2) rotate(-90)"><text transform="translate(-2.7 0) scale(1.1200 1)" font-size="63">C-Rate</text><text transform="translate(220.68 5.24) scale(0.700 1.231)" font-size="63">[</text><text transform="translate(234.46 0) scale(1.0783 1)" font-size="63">hours</text><text><tspan x="388.35" y="-20.7" font-size="60">−</tspan><tspan x="426.07" y="-28.6" font-size="45">1</tspan></text><text transform="translate(453.09 5.24) scale(0.629 1.231)" font-size="63">]</text></g>
<text><tspan x="333.52" y="1866.1" font-size="63" font-style="italic">r</tspan><tspan x="364.48" y="1875.5" font-size="41" font-style="italic">p</tspan> </text><text transform="translate(415.13 1871.38) scale(0.614 1.190)" font-size="63">[</text><text><tspan x="432.3" y="1866.1" font-size="63" font-style="italic">μ</tspan><tspan x="467.32" y="1866.1" font-size="63">m</tspan></text><text transform="translate(518.27 1871.38) scale(0.614 1.190)" font-size="63">]</text>
<text x="200.45" y="1440.1" font-size="56">(c1)</text>
<circle cx="291.8" cy="1553.9" r="32.2" fill="#8fbbd9" stroke="#1f77b4" stroke-width="7.0"/>
<circle cx="397.5" cy="1366.4" r="32.3" fill="#fff"/>
<path d="M420.67 1388.9 A32.3 32.3 0 0 1 374.33 1388.9 Z" fill="url(#seg)"/>
<circle cx="397.5" cy="1366.4" r="32.3" fill="none" stroke="#1f77b4" stroke-width="6.2"/>
<circle cx="397.5" cy="1366.4" r="19.6" fill="#ff0000"/>
<circle cx="581.3" cy="1482.6" r="41.3" fill="#fff" stroke="#08a5fa" stroke-width="8.5"/>
<circle cx="581.3" cy="1482.6" r="32.8" fill="#fff"/>
<path d="M605.17 1505.1 A32.8 32.8 0 0 1 557.43 1505.1 Z" fill="url(#seg)"/>
<circle cx="581.3" cy="1482.6" r="32.8" fill="none" stroke="#8b0000" stroke-width="6.4"/>
<circle cx="581.3" cy="1482.6" r="19.6" fill="#ff0000"/>
<circle cx="609.9" cy="1808.2" r="41.3" fill="#fff" stroke="#08a5fa" stroke-width="8.5"/>
<circle cx="609.9" cy="1808.2" r="32.25" fill="#8fbbd9" stroke="#ff0000" stroke-width="6.4"/>
<polygon points="508.5,1711.66 548.4,1750.73 541.23,1758.05 569.2,1765.5 561.17,1737.69 553.99,1745.01 514.1,1705.94" fill="#000"/>
</g>
<g id="c2">
<clipPath id="clip_c2"><rect x="750" y="1308.3" width="474" height="441.8"/></clipPath>
<line x1="989.8" y1="1308.3" x2="989.8" y2="1704.5" stroke="#808080" stroke-width="5.6" stroke-linecap="round" clip-path="url(#clip_c2)"/>
<path d="M778.78 1307.9 C780.17 1309.97 784.8 1316.66 787.14 1320.3 C789.47 1323.93 790.65 1326.29 792.78 1329.73 C794.91 1333.16 796.73 1336.33 799.94 1340.93 C803.15 1345.53 807.91 1351.85 812.06 1357.33 C816.2 1362.8 821.01 1368.79 824.79 1373.78 C828.57 1378.76 831.7 1383.24 834.74 1387.23 C837.78 1391.22 839.9 1393.63 843.03 1397.72 C846.15 1401.81 849.43 1406.41 853.49 1411.78 C857.54 1417.15 862.86 1423.97 867.37 1429.94 C871.88 1435.92 876.29 1441.94 880.55 1447.63 C884.81 1453.33 889.3 1459.15 892.91 1464.12 C896.52 1469.09 898.94 1474.19 902.2 1477.44 C905.47 1480.7 909.77 1481.42 912.5 1483.66 C915.23 1485.9 916.9 1488.31 918.59 1490.87 C920.29 1493.44 921.54 1496.96 922.65 1499.05 C923.76 1501.15 923.93 1501.44 925.26 1503.45 C926.58 1505.46 928.38 1508.05 930.58 1511.12 C932.78 1514.19 935.72 1518.27 938.47 1521.89 C941.22 1525.52 944.52 1529.5 947.09 1532.87 C949.65 1536.24 952.09 1539.55 953.85 1542.1 C955.61 1544.66 956.34 1546.15 957.65 1548.2 C958.95 1550.25 960.22 1552.32 961.68 1554.4 C963.15 1556.47 964.82 1558.64 966.45 1560.66 C968.08 1562.67 969.7 1564.33 971.46 1566.5 C973.21 1568.68 974.91 1570.93 976.99 1573.71 C979.08 1576.48 981.27 1579.45 983.95 1583.16 C986.64 1586.86 989.69 1591.36 993.12 1595.93 C996.55 1600.5 1001.23 1606.3 1004.54 1610.6 C1007.84 1614.9 1010.66 1618.7 1012.94 1621.72 C1015.22 1624.73 1015.48 1625.04 1018.24 1628.67 C1020.99 1632.3 1025.37 1638.15 1029.46 1643.49 C1033.55 1648.84 1038.49 1655.2 1042.76 1660.76 C1047.03 1666.31 1051.07 1671.77 1055.09 1676.83 C1059.11 1681.89 1062.95 1686.52 1066.88 1691.12 C1070.81 1695.72 1076.72 1702.19 1078.69 1704.41" fill="none" stroke="#0580ff" stroke-width="5.8" stroke-linecap="round" stroke-linejoin="round" clip-path="url(#clip_c2)"/>
<rect x="750" y="1308.3" width="474" height="441.8" fill="none" stroke="#000" stroke-width="3.6"/>
<path d="M750 1308.3 v-13.6 M750 1750.1 v13.6 M908 1308.3 v-13.6 M908 1750.1 v13.6 M1066 1308.3 v-13.6 M1066 1750.1 v13.6 M1224 1308.3 v-13.6 M1224 1750.1 v13.6 M750 1346.79 h-13.6 M1224 1346.79 h13.6 M750 1427.45 h-13.6 M1224 1427.45 h13.6 M750 1508.11 h-13.6 M1224 1508.11 h13.6 M750 1588.77 h-13.6 M1224 1588.77 h13.6 M750 1669.44 h-13.6 M1224 1669.44 h13.6 M750 1750.1 h-13.6 M1224 1750.1 h13.6" stroke="#000" stroke-width="3.6" fill="none" stroke-linecap="butt"/>
<text x="736.23" y="1808" font-size="54.5">1</text>
<text x="879.58" y="1808" font-size="54.5">10</text>
<text><tspan x="1184.88" y="1808" font-size="54.5">10</tspan><tspan x="1239.92" y="1786.7" font-size="40.5">3</tspan></text>
<text><tspan x="876.57" y="1866.1" font-size="63" font-style="italic">r</tspan><tspan x="907.52" y="1875.5" font-size="41" font-style="italic">p</tspan> </text><text transform="translate(958.18 1871.38) scale(0.614 1.190)" font-size="63">[</text><text><tspan x="975.35" y="1866.1" font-size="63" font-style="italic">μ</tspan><tspan x="1010.38" y="1866.1" font-size="63">m</tspan></text><text transform="translate(1061.32 1871.38) scale(0.614 1.190)" font-size="63">]</text>
<text x="753.15" y="1440.1" font-size="56">(c2)</text>
<circle cx="819.8" cy="1553.9" r="32.2" fill="#8fbbd9" stroke="#1f77b4" stroke-width="7.0"/>
<circle cx="895.3" cy="1366.4" r="32.3" fill="#fff"/>
<path d="M918.47 1388.9 A32.3 32.3 0 0 1 872.13 1388.9 Z" fill="url(#seg)"/>
<circle cx="895.3" cy="1366.4" r="32.3" fill="none" stroke="#1f77b4" stroke-width="6.2"/>
<circle cx="895.3" cy="1366.4" r="19.6" fill="#ff0000"/>
<circle cx="1093.6" cy="1482.1" r="41.3" fill="#fff" stroke="#08a5fa" stroke-width="8.5"/>
<circle cx="1093.6" cy="1482.1" r="32.8" fill="#fff"/>
<path d="M1117.47 1504.6 A32.8 32.8 0 0 1 1069.73 1504.6 Z" fill="url(#seg)"/>
<circle cx="1093.6" cy="1482.1" r="32.8" fill="none" stroke="#8b0000" stroke-width="6.4"/>
<circle cx="1093.6" cy="1482.1" r="19.6" fill="#ff0000"/>
<circle cx="1133.3" cy="1808.9" r="41.3" fill="#fff" stroke="#08a5fa" stroke-width="8.5"/>
<circle cx="1133.3" cy="1808.9" r="32.25" fill="#8fbbd9" stroke="#ff0000" stroke-width="6.4"/>
<polygon points="1017.8,1713.15 1058.22,1752.89 1051.04,1760.2 1079,1767.7 1071.02,1739.87 1063.83,1747.18 1023.4,1707.45" fill="#000"/>
</g>
<g id="c3">
<clipPath id="clip_c3"><rect x="1308.7" y="1308.3" width="473.9" height="441.8"/></clipPath>
<line x1="1454.7" y1="1308.3" x2="1454.7" y2="1704.5" stroke="#808080" stroke-width="5.6" stroke-linecap="round" clip-path="url(#clip_c3)"/>
<path d="M1337.48 1307.9 C1338.87 1309.97 1343.49 1316.66 1345.83 1320.3 C1348.16 1323.93 1349.34 1326.29 1351.47 1329.73 C1353.6 1333.16 1355.42 1336.33 1358.63 1340.93 C1361.84 1345.53 1366.6 1351.85 1370.74 1357.33 C1374.88 1362.8 1379.69 1368.79 1383.47 1373.78 C1387.25 1378.76 1390.39 1383.24 1393.42 1387.23 C1396.46 1391.22 1398.58 1393.63 1401.71 1397.72 C1404.83 1401.81 1408.11 1406.41 1412.17 1411.78 C1416.22 1417.15 1421.53 1423.97 1426.04 1429.94 C1430.55 1435.92 1434.97 1441.94 1439.22 1447.63 C1443.48 1453.33 1447.97 1459.15 1451.58 1464.12 C1455.19 1469.09 1457.61 1474.19 1460.87 1477.44 C1464.14 1480.7 1468.43 1481.42 1471.16 1483.66 C1473.89 1485.9 1475.57 1488.31 1477.26 1490.87 C1478.95 1493.44 1480.2 1496.96 1481.31 1499.05 C1482.42 1501.15 1482.6 1501.44 1483.92 1503.45 C1485.24 1505.46 1487.04 1508.05 1489.24 1511.12 C1491.44 1514.19 1494.38 1518.27 1497.13 1521.89 C1499.88 1525.52 1503.18 1529.5 1505.74 1532.87 C1508.31 1536.24 1510.74 1539.55 1512.5 1542.1 C1514.26 1544.66 1515 1546.15 1516.3 1548.2 C1517.61 1550.25 1518.87 1552.32 1520.34 1554.4 C1521.81 1556.47 1523.47 1558.64 1525.1 1560.66 C1526.73 1562.67 1528.35 1564.33 1530.11 1566.5 C1531.87 1568.68 1533.56 1570.93 1535.65 1573.71 C1537.73 1576.48 1539.92 1579.45 1542.6 1583.16 C1545.29 1586.86 1548.34 1591.36 1551.76 1595.93 C1555.19 1600.5 1559.88 1606.3 1563.18 1610.6 C1566.49 1614.9 1569.3 1618.7 1571.59 1621.72 C1573.87 1624.73 1574.13 1625.04 1576.88 1628.67 C1579.63 1632.3 1584.01 1638.15 1588.1 1643.49 C1592.19 1648.84 1597.13 1655.2 1601.4 1660.76 C1605.67 1666.31 1609.71 1671.77 1613.73 1676.83 C1617.75 1681.89 1621.58 1686.52 1625.51 1691.12 C1629.45 1695.72 1635.35 1702.19 1637.32 1704.41" fill="none" stroke="#0580ff" stroke-width="5.8" stroke-linecap="round" stroke-linejoin="round" clip-path="url(#clip_c3)"/>
<rect x="1308.7" y="1308.3" width="473.9" height="441.8" fill="none" stroke="#000" stroke-width="3.6"/>
<path d="M1308.7 1308.3 v-13.6 M1308.7 1750.1 v13.6 M1466.67 1308.3 v-13.6 M1466.67 1750.1 v13.6 M1624.63 1308.3 v-13.6 M1624.63 1750.1 v13.6 M1782.6 1308.3 v-13.6 M1782.6 1750.1 v13.6 M1308.7 1346.79 h-13.6 M1782.6 1346.79 h13.6 M1308.7 1427.45 h-13.6 M1782.6 1427.45 h13.6 M1308.7 1508.11 h-13.6 M1782.6 1508.11 h13.6 M1308.7 1588.77 h-13.6 M1782.6 1588.77 h13.6 M1308.7 1669.44 h-13.6 M1782.6 1669.44 h13.6 M1308.7 1750.1 h-13.6 M1782.6 1750.1 h13.6" stroke="#000" stroke-width="3.6" fill="none" stroke-linecap="butt"/>
<text x="1294.92" y="1808" font-size="54.5">1</text>
<text x="1438.24" y="1808" font-size="54.5">10</text>
<text x="1582.58" y="1808" font-size="54.5">100</text>
<text><tspan x="1740.67" y="1808" font-size="54.5">10</tspan><tspan x="1795.32" y="1786.7" font-size="40.5">3</tspan></text>
<text><tspan x="1446.43" y="1866.1" font-size="63" font-style="italic">r</tspan><tspan x="1477.38" y="1875.5" font-size="41" font-style="italic">p</tspan> </text><text transform="translate(1528.03 1871.38) scale(0.614 1.190)" font-size="63">[</text><text><tspan x="1545.2" y="1866.1" font-size="63" font-style="italic">μ</tspan><tspan x="1580.23" y="1866.1" font-size="63">m</tspan></text><text transform="translate(1631.17 1871.38) scale(0.614 1.190)" font-size="63">]</text>
<text x="1313.55" y="1440.1" font-size="56">(c3)</text>
<circle cx="1357.7" cy="1553.9" r="32.2" fill="#8fbbd9" stroke="#1f77b4" stroke-width="7.0"/>
<circle cx="1639.6" cy="1482.7" r="41.3" fill="#fff" stroke="#08a5fa" stroke-width="8.5"/>
<circle cx="1639.6" cy="1482.7" r="32.8" fill="#fff"/>
<path d="M1663.47 1505.2 A32.8 32.8 0 0 1 1615.73 1505.2 Z" fill="url(#seg)"/>
<circle cx="1639.6" cy="1482.7" r="32.8" fill="none" stroke="#8b0000" stroke-width="6.4"/>
<circle cx="1639.6" cy="1482.7" r="19.6" fill="#ff0000"/>
<circle cx="1520.4" cy="1666.6" r="41.3" fill="#fff" stroke="#08a5fa" stroke-width="8.5"/>
<circle cx="1520.4" cy="1666.6" r="32.25" fill="#8fbbd9" stroke="#ff0000" stroke-width="6.4"/>
<circle cx="1295.6" cy="1250.1" r="32.3" fill="#fff"/>
<path d="M1318.77 1272.6 A32.3 32.3 0 0 1 1272.43 1272.6 Z" fill="url(#seg)"/>
<circle cx="1295.6" cy="1250.1" r="32.3" fill="none" stroke="#1f77b4" stroke-width="6.2"/>
<circle cx="1295.6" cy="1250.1" r="19.6" fill="#ff0000"/>
<polygon points="1395.63,1318.89 1355.91,1281.63 1363.03,1274.05 1334.9,1267.2 1343.53,1294.83 1350.65,1287.25 1390.37,1324.51" fill="#000"/>
</g>
<g id="d1">
<clipPath id="clip_d1"><rect x="195.6" y="1910.6" width="474.3" height="441.6"/></clipPath>
<line x1="501" y1="1910.6" x2="501" y2="2306.7" stroke="#808080" stroke-width="5.6" stroke-linecap="round" clip-path="url(#clip_d1)"/>
<path d="M218.8 1910.2 C220.36 1912.33 225.24 1918.82 228.18 1922.99 C231.11 1927.16 233.57 1931.08 236.41 1935.22 C239.25 1939.37 241.95 1943.46 245.22 1947.87 C248.49 1952.27 252.31 1956.81 256.01 1961.65 C259.71 1966.49 264.07 1972.38 267.44 1976.91 C270.81 1981.44 273.13 1984.73 276.25 1988.81 C279.38 1992.89 282.57 1996.81 286.19 2001.38 C289.81 2005.95 294.01 2011.1 297.99 2016.23 C301.96 2021.35 305.98 2026.74 310.03 2032.14 C314.08 2037.54 318.42 2043.43 322.28 2048.62 C326.15 2053.8 329.78 2058.66 333.24 2063.25 C336.69 2067.85 339.83 2072.18 343.02 2076.2 C346.21 2080.22 349.64 2084.08 352.38 2087.37 C355.11 2090.66 356.85 2092.63 359.41 2095.94 C361.97 2099.24 364.66 2102.94 367.75 2107.19 C370.85 2111.44 374.57 2116.96 377.98 2121.41 C381.4 2125.86 385.33 2130.19 388.25 2133.89 C391.17 2137.59 393.45 2140.83 395.5 2143.61 C397.56 2146.39 398.58 2147.77 400.57 2150.57 C402.55 2153.36 405.14 2157.48 407.4 2160.4 C409.65 2163.32 411.77 2165.33 414.11 2168.07 C416.45 2170.82 418.82 2173.7 421.42 2176.87 C424.03 2180.05 426.52 2182.91 429.75 2187.13 C432.98 2191.35 437.07 2197.05 440.8 2202.19 C444.53 2207.33 449 2213.62 452.12 2217.95 C455.24 2222.29 456.48 2224.14 459.53 2228.2 C462.58 2232.26 467.46 2238.58 470.42 2242.31 C473.38 2246.05 474.53 2247.3 477.28 2250.62 C480.02 2253.95 483.82 2258.45 486.91 2262.26 C490.01 2266.07 492.93 2269.96 495.85 2273.48 C498.77 2277 501.06 2279.59 504.44 2283.39 C507.82 2287.2 512.83 2292.67 516.14 2296.33 C519.45 2300 522.94 2303.87 524.3 2305.37" fill="none" stroke="#0580ff" stroke-width="5.8" stroke-linecap="round" stroke-linejoin="round" clip-path="url(#clip_d1)"/>
<rect x="195.6" y="1910.6" width="474.3" height="441.6" fill="none" stroke="#000" stroke-width="3.6"/>
<path d="M195.6 1910.6 v-13.6 M195.6 2352.2 v13.6 M353.7 1910.6 v-13.6 M353.7 2352.2 v13.6 M511.8 1910.6 v-13.6 M511.8 2352.2 v13.6 M669.9 1910.6 v-13.6 M669.9 2352.2 v13.6 M195.6 1949.07 h-13.6 M669.9 1949.07 h13.6 M195.6 2029.69 h-13.6 M669.9 2029.69 h13.6 M195.6 2110.32 h-13.6 M669.9 2110.32 h13.6 M195.6 2190.95 h-13.6 M669.9 2190.95 h13.6 M195.6 2271.57 h-13.6 M669.9 2271.57 h13.6 M195.6 2352.2 h-13.6 M669.9 2352.2 h13.6" stroke="#000" stroke-width="3.6" fill="none" stroke-linecap="butt"/>
<text x="181.82" y="2410.1" font-size="54.5">1</text>
<text x="325.27" y="2410.1" font-size="54.5">10</text>
<text x="469.75" y="2410.1" font-size="54.5">100</text>
<text><tspan x="630.77" y="2410.1" font-size="54.5">10</tspan><tspan x="685.82" y="2388.8" font-size="40.5">3</tspan></text>
<text x="91.55" y="1967.37" font-size="54.5">100</text>
<text x="118.8" y="2047.99" font-size="54.5">10</text>
<text x="147.3" y="2128.62" font-size="54.5">1</text>
<text x="106.55" y="2209.25" font-size="54.5">0.1</text>
<text x="79.3" y="2289.87" font-size="54.5">0.01</text>
<text><tspan x="70.57" y="2375" font-size="54.5">10</tspan><tspan x="125.97" y="2360.2" font-size="52">−</tspan><tspan x="157.82" y="2353.2" font-size="40.5">3</tspan></text>
<g transform="translate(59.5 2375.5) rotate(-90)"><text transform="translate(-2.7 0) scale(1.1200 1)" font-size="63">C-Rate</text><text transform="translate(220.68 5.24) scale(0.700 1.231)" font-size="63">[</text><text transform="translate(234.46 0) scale(1.0783 1)" font-size="63">hours</text><text><tspan x="388.35" y="-20.7" font-size="60">−</tspan><tspan x="426.07" y="-28.6" font-size="45">1</tspan></text><text transform="translate(453.09 5.24) scale(0.629 1.231)" font-size="63">]</text></g>
<text><tspan x="333.52" y="2468.2" font-size="63" font-style="italic">r</tspan><tspan x="364.48" y="2477.6" font-size="41" font-style="italic">p</tspan> </text><text transform="translate(415.13 2473.48) scale(0.614 1.190)" font-size="63">[</text><text><tspan x="432.3" y="2468.2" font-size="63" font-style="italic">μ</tspan><tspan x="467.32" y="2468.2" font-size="63">m</tspan></text><text transform="translate(518.27 2473.48) scale(0.614 1.190)" font-size="63">]</text>
<text x="200.45" y="2042.4" font-size="56">(d1)</text>
<circle cx="291.8" cy="2187.2" r="32.2" fill="#8fbbd9" stroke="#1f77b4" stroke-width="7.0"/>
<circle cx="398.3" cy="1967.1" r="32.3" fill="#fff"/>
<path d="M421.47 1989.6 A32.3 32.3 0 0 1 375.13 1989.6 Z" fill="url(#seg)"/>
<circle cx="398.3" cy="1967.1" r="32.3" fill="none" stroke="#1f77b4" stroke-width="6.2"/>
<path d="M398 1950.8 A16.3 16.3 0 0 1 398 1983.4" fill="none" stroke="#ff0000" stroke-width="6.6"/>
<circle cx="580.5" cy="2083.6" r="41.3" fill="#fff" stroke="#08a5fa" stroke-width="8.5"/>
<circle cx="580.5" cy="2083.6" r="32.8" fill="#fff"/>
<path d="M604.37 2106.1 A32.8 32.8 0 0 1 556.63 2106.1 Z" fill="url(#seg)"/>
<circle cx="580.5" cy="2083.6" r="32.8" fill="none" stroke="#8b0000" stroke-width="6.4"/>
<path d="M580.2 2067.3 A16.3 16.3 0 0 1 580.2 2099.9" fill="none" stroke="#ff0000" stroke-width="6.6"/>
<circle cx="596.2" cy="2418.9" r="41.3" fill="#fff" stroke="#08a5fa" stroke-width="8.5"/>
<circle cx="596.2" cy="2418.9" r="32.25" fill="#8fbbd9" stroke="#ff0000" stroke-width="6.4"/>
<polygon points="511.89,2316.65 552.16,2356.43 544.96,2363.73 572.9,2371.3 564.99,2343.45 557.78,2350.74 517.51,2310.95" fill="#000"/>
</g>
<g id="d2">
<clipPath id="clip_d2"><rect x="750" y="1910.6" width="474" height="441.6"/></clipPath>
<line x1="989.8" y1="1910.6" x2="989.8" y2="2306.7" stroke="#808080" stroke-width="5.6" stroke-linecap="round" clip-path="url(#clip_d2)"/>
<path d="M773.19 1910.2 C774.75 1912.33 779.62 1918.82 782.56 1922.99 C785.49 1927.16 787.94 1931.08 790.78 1935.22 C793.62 1939.37 796.32 1943.46 799.59 1947.87 C802.85 1952.27 806.67 1956.81 810.37 1961.65 C814.07 1966.49 818.42 1972.38 821.79 1976.91 C825.16 1981.44 827.48 1984.73 830.6 1988.81 C833.72 1992.89 836.91 1996.81 840.53 2001.38 C844.15 2005.95 848.35 2011.1 852.32 2016.23 C856.29 2021.35 860.31 2026.74 864.36 2032.14 C868.41 2037.54 872.74 2043.43 876.6 2048.62 C880.47 2053.8 884.09 2058.66 887.55 2063.25 C891 2067.85 894.14 2072.18 897.33 2076.2 C900.52 2080.22 903.95 2084.08 906.68 2087.37 C909.41 2090.66 911.15 2092.63 913.71 2095.94 C916.27 2099.24 918.95 2102.94 922.04 2107.19 C925.14 2111.44 928.85 2116.96 932.27 2121.41 C935.68 2125.86 939.61 2130.19 942.53 2133.89 C945.45 2137.59 947.73 2140.83 949.78 2143.61 C951.83 2146.39 952.86 2147.77 954.84 2150.57 C956.82 2153.36 959.41 2157.48 961.66 2160.4 C963.92 2163.32 966.03 2165.33 968.37 2168.07 C970.71 2170.82 973.08 2173.7 975.68 2176.87 C978.29 2180.05 980.78 2182.91 984 2187.13 C987.23 2191.35 991.32 2197.05 995.04 2202.19 C998.77 2207.33 1003.24 2213.62 1006.36 2217.95 C1009.48 2222.29 1010.71 2224.14 1013.76 2228.2 C1016.81 2232.26 1021.69 2238.58 1024.65 2242.31 C1027.6 2246.05 1028.75 2247.3 1031.5 2250.62 C1034.25 2253.95 1038.03 2258.45 1041.13 2262.26 C1044.22 2266.07 1047.14 2269.96 1050.06 2273.48 C1052.98 2277 1055.26 2279.59 1058.64 2283.39 C1062.02 2287.2 1067.03 2292.67 1070.34 2296.33 C1073.65 2300 1077.13 2303.87 1078.49 2305.37" fill="none" stroke="#0580ff" stroke-width="5.8" stroke-linecap="round" stroke-linejoin="round" clip-path="url(#clip_d2)"/>
<rect x="750" y="1910.6" width="474" height="441.6" fill="none" stroke="#000" stroke-width="3.6"/>
<path d="M750 1910.6 v-13.6 M750 2352.2 v13.6 M908 1910.6 v-13.6 M908 2352.2 v13.6 M1066 1910.6 v-13.6 M1066 2352.2 v13.6 M1224 1910.6 v-13.6 M1224 2352.2 v13.6 M750 1949.07 h-13.6 M1224 1949.07 h13.6 M750 2029.69 h-13.6 M1224 2029.69 h13.6 M750 2110.32 h-13.6 M1224 2110.32 h13.6 M750 2190.95 h-13.6 M1224 2190.95 h13.6 M750 2271.57 h-13.6 M1224 2271.57 h13.6 M750 2352.2 h-13.6 M1224 2352.2 h13.6" stroke="#000" stroke-width="3.6" fill="none" stroke-linecap="butt"/>
<text x="736.23" y="2410.1" font-size="54.5">1</text>
<text x="879.58" y="2410.1" font-size="54.5">10</text>
<text><tspan x="1184.88" y="2410.1" font-size="54.5">10</tspan><tspan x="1239.92" y="2388.8" font-size="40.5">3</tspan></text>
<text><tspan x="826.57" y="2468.2" font-size="63" font-style="italic">r</tspan><tspan x="857.52" y="2477.6" font-size="41" font-style="italic">p</tspan> </text><text transform="translate(908.18 2473.48) scale(0.614 1.190)" font-size="63">[</text><text><tspan x="925.35" y="2468.2" font-size="63" font-style="italic">μ</tspan><tspan x="960.38" y="2468.2" font-size="63">m</tspan></text><text transform="translate(1011.32 2473.48) scale(0.614 1.190)" font-size="63">]</text>
<text x="753.15" y="2042.4" font-size="56">(d2)</text>
<circle cx="819.8" cy="2187.2" r="32.2" fill="#8fbbd9" stroke="#1f77b4" stroke-width="7.0"/>
<circle cx="894.5" cy="1967.1" r="32.3" fill="#fff"/>
<path d="M917.67 1989.6 A32.3 32.3 0 0 1 871.33 1989.6 Z" fill="url(#seg)"/>
<circle cx="894.5" cy="1967.1" r="32.3" fill="none" stroke="#1f77b4" stroke-width="6.2"/>
<path d="M894.2 1950.8 A16.3 16.3 0 0 1 894.2 1983.4" fill="none" stroke="#ff0000" stroke-width="6.6"/>
<circle cx="1093.6" cy="2083.6" r="41.3" fill="#fff" stroke="#08a5fa" stroke-width="8.5"/>
<circle cx="1093.6" cy="2083.6" r="32.8" fill="#fff"/>
<path d="M1117.47 2106.1 A32.8 32.8 0 0 1 1069.73 2106.1 Z" fill="url(#seg)"/>
<circle cx="1093.6" cy="2083.6" r="32.8" fill="none" stroke="#8b0000" stroke-width="6.4"/>
<path d="M1093.3 2067.3 A16.3 16.3 0 0 1 1093.3 2099.9" fill="none" stroke="#ff0000" stroke-width="6.6"/>
<circle cx="1100.3" cy="2420.3" r="41.3" fill="#fff" stroke="#08a5fa" stroke-width="8.5"/>
<circle cx="1100.3" cy="2420.3" r="32.25" fill="#8fbbd9" stroke="#ff0000" stroke-width="6.4"/>
<polygon points="1016.41,2313.86 1053.21,2352.43 1045.79,2359.51 1073.5,2367.9 1066.41,2339.83 1059,2346.91 1022.19,2308.34" fill="#000"/>
</g>
<g id="d3">
<clipPath id="clip_d3"><rect x="1308.7" y="1910.6" width="473.9" height="441.6"/></clipPath>
<line x1="1454.7" y1="1910.6" x2="1454.7" y2="2306.7" stroke="#808080" stroke-width="5.6" stroke-linecap="round" clip-path="url(#clip_d3)"/>
<path d="M1331.88 1910.2 C1333.44 1912.33 1338.32 1918.82 1341.25 1922.99 C1344.18 1927.16 1346.63 1931.08 1349.47 1935.22 C1352.31 1939.37 1355.01 1943.46 1358.28 1947.87 C1361.54 1952.27 1365.36 1956.81 1369.06 1961.65 C1372.76 1966.49 1377.11 1972.38 1380.48 1976.91 C1383.85 1981.44 1386.16 1984.73 1389.28 1988.81 C1392.41 1992.89 1395.59 1996.81 1399.21 2001.38 C1402.83 2005.95 1407.03 2011.1 1411 2016.23 C1414.97 2021.35 1418.99 2026.74 1423.03 2032.14 C1427.08 2037.54 1431.41 2043.43 1435.28 2048.62 C1439.14 2053.8 1442.77 2058.66 1446.22 2063.25 C1449.67 2067.85 1452.81 2072.18 1456 2076.2 C1459.18 2080.22 1462.61 2084.08 1465.34 2087.37 C1468.07 2090.66 1469.81 2092.63 1472.37 2095.94 C1474.93 2099.24 1477.61 2102.94 1480.71 2107.19 C1483.8 2111.44 1487.52 2116.96 1490.93 2121.41 C1494.34 2125.86 1498.27 2130.19 1501.19 2133.89 C1504.11 2137.59 1506.38 2140.83 1508.43 2143.61 C1510.49 2146.39 1511.51 2147.77 1513.49 2150.57 C1515.47 2153.36 1518.06 2157.48 1520.32 2160.4 C1522.57 2163.32 1524.69 2165.33 1527.02 2168.07 C1529.36 2170.82 1531.73 2173.7 1534.33 2176.87 C1536.94 2180.05 1539.43 2182.91 1542.65 2187.13 C1545.88 2191.35 1549.96 2197.05 1553.69 2202.19 C1557.42 2207.33 1561.89 2213.62 1565 2217.95 C1568.12 2222.29 1569.36 2224.14 1572.41 2228.2 C1575.45 2232.26 1580.33 2238.58 1583.29 2242.31 C1586.25 2246.05 1587.39 2247.3 1590.14 2250.62 C1592.89 2253.95 1596.67 2258.45 1599.77 2262.26 C1602.86 2266.07 1605.78 2269.96 1608.7 2273.48 C1611.62 2277 1613.9 2279.59 1617.28 2283.39 C1620.66 2287.2 1625.67 2292.67 1628.97 2296.33 C1632.28 2300 1635.76 2303.87 1637.12 2305.37" fill="none" stroke="#0580ff" stroke-width="5.8" stroke-linecap="round" stroke-linejoin="round" clip-path="url(#clip_d3)"/>
<rect x="1308.7" y="1910.6" width="473.9" height="441.6" fill="none" stroke="#000" stroke-width="3.6"/>
<path d="M1308.7 1910.6 v-13.6 M1308.7 2352.2 v13.6 M1466.67 1910.6 v-13.6 M1466.67 2352.2 v13.6 M1624.63 1910.6 v-13.6 M1624.63 2352.2 v13.6 M1782.6 1910.6 v-13.6 M1782.6 2352.2 v13.6 M1308.7 1949.07 h-13.6 M1782.6 1949.07 h13.6 M1308.7 2029.69 h-13.6 M1782.6 2029.69 h13.6 M1308.7 2110.32 h-13.6 M1782.6 2110.32 h13.6 M1308.7 2190.95 h-13.6 M1782.6 2190.95 h13.6 M1308.7 2271.57 h-13.6 M1782.6 2271.57 h13.6 M1308.7 2352.2 h-13.6 M1782.6 2352.2 h13.6" stroke="#000" stroke-width="3.6" fill="none" stroke-linecap="butt"/>
<text x="1294.92" y="2410.1" font-size="54.5">1</text>
<text x="1438.24" y="2410.1" font-size="54.5">10</text>
<text x="1582.58" y="2410.1" font-size="54.5">100</text>
<text><tspan x="1740.67" y="2410.1" font-size="54.5">10</tspan><tspan x="1795.32" y="2388.8" font-size="40.5">3</tspan></text>
<text><tspan x="1446.43" y="2468.2" font-size="63" font-style="italic">r</tspan><tspan x="1477.38" y="2477.6" font-size="41" font-style="italic">p</tspan> </text><text transform="translate(1528.03 2473.48) scale(0.614 1.190)" font-size="63">[</text><text><tspan x="1545.2" y="2468.2" font-size="63" font-style="italic">μ</tspan><tspan x="1580.23" y="2468.2" font-size="63">m</tspan></text><text transform="translate(1631.17 2473.48) scale(0.614 1.190)" font-size="63">]</text>
<text x="1313.55" y="2042.4" font-size="56">(d3)</text>
<circle cx="1357.7" cy="2187.7" r="32.2" fill="#8fbbd9" stroke="#1f77b4" stroke-width="7.0"/>
<circle cx="1639.3" cy="2084.3" r="41.3" fill="#fff" stroke="#08a5fa" stroke-width="8.5"/>
<circle cx="1639.3" cy="2084.3" r="32.8" fill="#fff"/>
<path d="M1663.17 2106.8 A32.8 32.8 0 0 1 1615.43 2106.8 Z" fill="url(#seg)"/>
<circle cx="1639.3" cy="2084.3" r="32.8" fill="none" stroke="#8b0000" stroke-width="6.4"/>
<path d="M1639 2068 A16.3 16.3 0 0 1 1639 2100.6" fill="none" stroke="#ff0000" stroke-width="6.6"/>
<circle cx="1520.4" cy="2282.9" r="41.3" fill="#fff" stroke="#08a5fa" stroke-width="8.5"/>
<circle cx="1520.4" cy="2282.9" r="32.25" fill="#8fbbd9" stroke="#ff0000" stroke-width="6.4"/>
<circle cx="1295.6" cy="1857.3" r="32.3" fill="#fff"/>
<path d="M1318.77 1879.8 A32.3 32.3 0 0 1 1272.43 1879.8 Z" fill="url(#seg)"/>
<circle cx="1295.6" cy="1857.3" r="32.3" fill="none" stroke="#1f77b4" stroke-width="6.2"/>
<path d="M1295.3 1841 A16.3 16.3 0 0 1 1295.3 1873.6" fill="none" stroke="#ff0000" stroke-width="6.6"/>
<polygon points="1395.63,1921.39 1355.91,1884.13 1363.03,1876.55 1334.9,1869.7 1343.53,1897.33 1350.65,1889.75 1390.37,1927.01" fill="#000"/>
</g>
</svg>
</body></html>
